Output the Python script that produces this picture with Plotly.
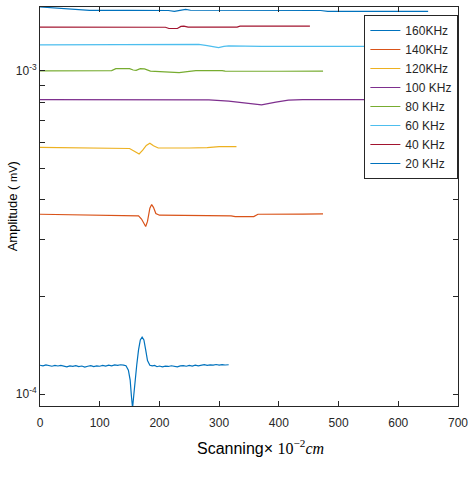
import plotly.graph_objects as go

# ---------------- data ----------------
legend_names = ["160KHz", "140KHz", "120KHz", "100 KHz", "80 KHz", "60 KHz", "40 KHz", "20 KHz"]
colors = ["#0072BD", "#D95319", "#EDB120", "#7E2F8E", "#77AC30", "#4DBEEE", "#A2142F", "#0072BD"]

x_160 = [0, 5, 10, 15, 20, 25, 30, 35, 40, 45, 50, 55, 60, 65, 70, 75, 80, 85, 90, 95, 100,
         105, 110, 115, 120, 125, 130, 135, 140, 144, 148, 151, 153, 155, 157, 159, 162, 165,
         168, 171, 174, 177, 180, 184, 188, 192, 196, 200, 205, 210, 215, 220, 225, 230, 235,
         240, 245, 250, 255, 260, 265, 270, 275, 280, 285, 290, 295, 300, 305, 310, 316]
y_160 = [1.228e-4, 1.222e-4, 1.230e-4, 1.224e-4, 1.219e-4, 1.226e-4, 1.221e-4, 1.227e-4,
         1.220e-4, 1.214e-4, 1.222e-4, 1.218e-4, 1.225e-4, 1.216e-4, 1.221e-4, 1.211e-4,
         1.219e-4, 1.224e-4, 1.216e-4, 1.222e-4, 1.219e-4, 1.226e-4, 1.221e-4, 1.228e-4,
         1.223e-4, 1.230e-4, 1.226e-4, 1.232e-4, 1.229e-4, 1.224e-4, 1.186e-4, 1.105e-4,
         9.9e-5, 9.05e-5, 9.9e-5, 1.10e-4, 1.23e-4, 1.37e-4, 1.47e-4, 1.50e-4, 1.47e-4,
         1.37e-4, 1.27e-4, 1.228e-4, 1.222e-4, 1.226e-4, 1.215e-4, 1.221e-4, 1.214e-4,
         1.220e-4, 1.217e-4, 1.223e-4, 1.219e-4, 1.214e-4, 1.222e-4, 1.225e-4, 1.219e-4,
         1.226e-4, 1.221e-4, 1.228e-4, 1.223e-4, 1.227e-4, 1.233e-4, 1.226e-4, 1.231e-4,
         1.228e-4, 1.234e-4, 1.229e-4, 1.233e-4, 1.230e-4, 1.232e-4]

x_140 = [0, 40, 80, 120, 150, 165, 170, 174, 177, 180, 184, 187, 190, 194, 200, 240, 280, 320,
         327, 350, 358, 365, 400, 440, 474]
y_140 = [3.60e-4, 3.59e-4, 3.59e-4, 3.585e-4, 3.58e-4, 3.56e-4, 3.48e-4, 3.36e-4, 3.30e-4,
         3.42e-4, 3.76e-4, 3.86e-4, 3.78e-4, 3.62e-4, 3.575e-4, 3.57e-4, 3.565e-4, 3.56e-4,
         3.54e-4, 3.535e-4, 3.54e-4, 3.60e-4, 3.61e-4, 3.605e-4, 3.61e-4]

x_120 = [0, 30, 50, 100, 140, 150, 158, 166, 172, 178, 184, 190, 198, 210, 250, 280, 300, 329]
y_120 = [5.80e-4, 5.79e-4, 5.77e-4, 5.765e-4, 5.77e-4, 5.75e-4, 5.64e-4, 5.53e-4, 5.68e-4,
         5.88e-4, 5.97e-4, 5.86e-4, 5.77e-4, 5.765e-4, 5.77e-4, 5.79e-4, 5.83e-4, 5.83e-4]

x_100 = [0, 100, 200, 283, 316, 345, 371, 395, 416, 440, 500, 600, 700]
y_100 = [8.14e-4, 8.13e-4, 8.14e-4, 8.13e-4, 8.06e-4, 7.97e-4, 7.85e-4, 8.00e-4, 8.12e-4,
         8.15e-4, 8.14e-4, 8.14e-4, 8.14e-4]

x_80 = [0, 60, 120, 127, 150, 156, 161, 168, 175, 185, 210, 233, 250, 261, 305, 310, 400, 474]
y_80 = [1.000e-3, 1.000e-3, 1.002e-3, 1.016e-3, 1.016e-3, 1.006e-3, 1.004e-3, 1.016e-3,
        1.014e-3, 0.998e-3, 0.990e-3, 0.988e-3, 0.996e-3, 1.002e-3, 1.002e-3, 0.998e-3,
        0.997e-3, 0.998e-3]

x_60 = [0, 63, 70, 150, 266, 280, 290, 299, 308, 316, 371, 450, 550, 650, 700]
y_60 = [1.203e-3, 1.203e-3, 1.208e-3, 1.208e-3, 1.207e-3, 1.197e-3, 1.185e-3, 1.180e-3,
        1.190e-3, 1.195e-3, 1.191e-3, 1.190e-3, 1.190e-3, 1.190e-3, 1.190e-3]

x_40 = [0, 100, 210, 216, 223, 230, 236, 241, 248, 330, 335, 400, 452]
y_40 = [1.365e-3, 1.365e-3, 1.364e-3, 1.352e-3, 1.349e-3, 1.352e-3, 1.372e-3, 1.375e-3,
        1.365e-3, 1.365e-3, 1.375e-3, 1.375e-3, 1.375e-3]

x_20 = [0, 20, 40, 60, 83, 150, 215, 225, 235, 244, 252, 300, 400, 470, 482, 560, 650]
y_20 = [1.576e-3, 1.566e-3, 1.555e-3, 1.546e-3, 1.539e-3, 1.539e-3, 1.537e-3, 1.528e-3,
        1.537e-3, 1.550e-3, 1.540e-3, 1.539e-3, 1.539e-3, 1.537e-3, 1.528e-3, 1.528e-3,
        1.528e-3]

series_x = [x_160, x_140, x_120, x_100, x_80, x_60, x_40, x_20]
series_y = [y_160, y_140, y_120, y_100, y_80, y_60, y_40, y_20]

x_ticks = [0, 100, 200, 300, 400, 500, 600, 700]
y_ticks = [1e-4, 1e-3]
y_ticktext = ["10<sup>-4</sup>", "10<sup>-3</sup>"]
y_minor_ticks = [2e-4, 3e-4, 4e-4, 5e-4, 6e-4, 7e-4, 8e-4, 9e-4]

# ---------------- figure ----------------
fig = go.Figure()
for name, col, xs, ys in zip(legend_names, colors, series_x, series_y):
    fig.add_trace(go.Scatter(x=xs, y=ys, mode="lines", name=name,
                             line=dict(color=col, width=1.2)))

axis_col = "#262626"
fig.update_layout(
    width=474, height=478,
    margin=dict(l=40, r=13, t=6, b=72),
    paper_bgcolor="white", plot_bgcolor="white",
    font=dict(family="Liberation Sans, Arial, sans-serif", size=12, color=axis_col),
    showlegend=True,
    legend=dict(x=0.776, y=0.98, xanchor="left", yanchor="top",
                bgcolor="white", bordercolor=axis_col, borderwidth=1,
                font=dict(size=12, color=axis_col), tracegroupgap=0),
    xaxis=dict(range=[0, 700], tickvals=x_ticks, ticks="inside", ticklen=5,
               tickcolor=axis_col, showline=True, linecolor=axis_col, linewidth=1,
               mirror="ticks", showgrid=False, zeroline=False, ticklabelstandoff=6),
    yaxis=dict(type="log", range=[-4.037, -2.8025], tickvals=y_ticks, ticktext=y_ticktext,
               ticks="inside", ticklen=5, tickcolor=axis_col, showline=True,
               linecolor=axis_col, linewidth=1, mirror="ticks", showgrid=False,
               zeroline=False,
               minor=dict(tickvals=y_minor_ticks, ticks="inside", ticklen=5,
                          tickcolor=axis_col, showgrid=False)),
    annotations=[
        dict(text="Amplitude ( <span style='font-size:11px'>mV</span>)", xref="paper", yref="paper",
             x=-0.065, y=0.5, xanchor="center", yanchor="middle", textangle=-90,
             showarrow=False, font=dict(size=13, color="black")),
        dict(text="Scanning× <span style='font-family:Liberation Serif'>10<sup>−2</sup><i>cm</i></span>",
             xref="paper", yref="paper", x=0.527, y=-0.102, xanchor="center", yanchor="middle",
             showarrow=False, font=dict(size=16, color="black")),
    ],
)

fig.write_html("out.html")
